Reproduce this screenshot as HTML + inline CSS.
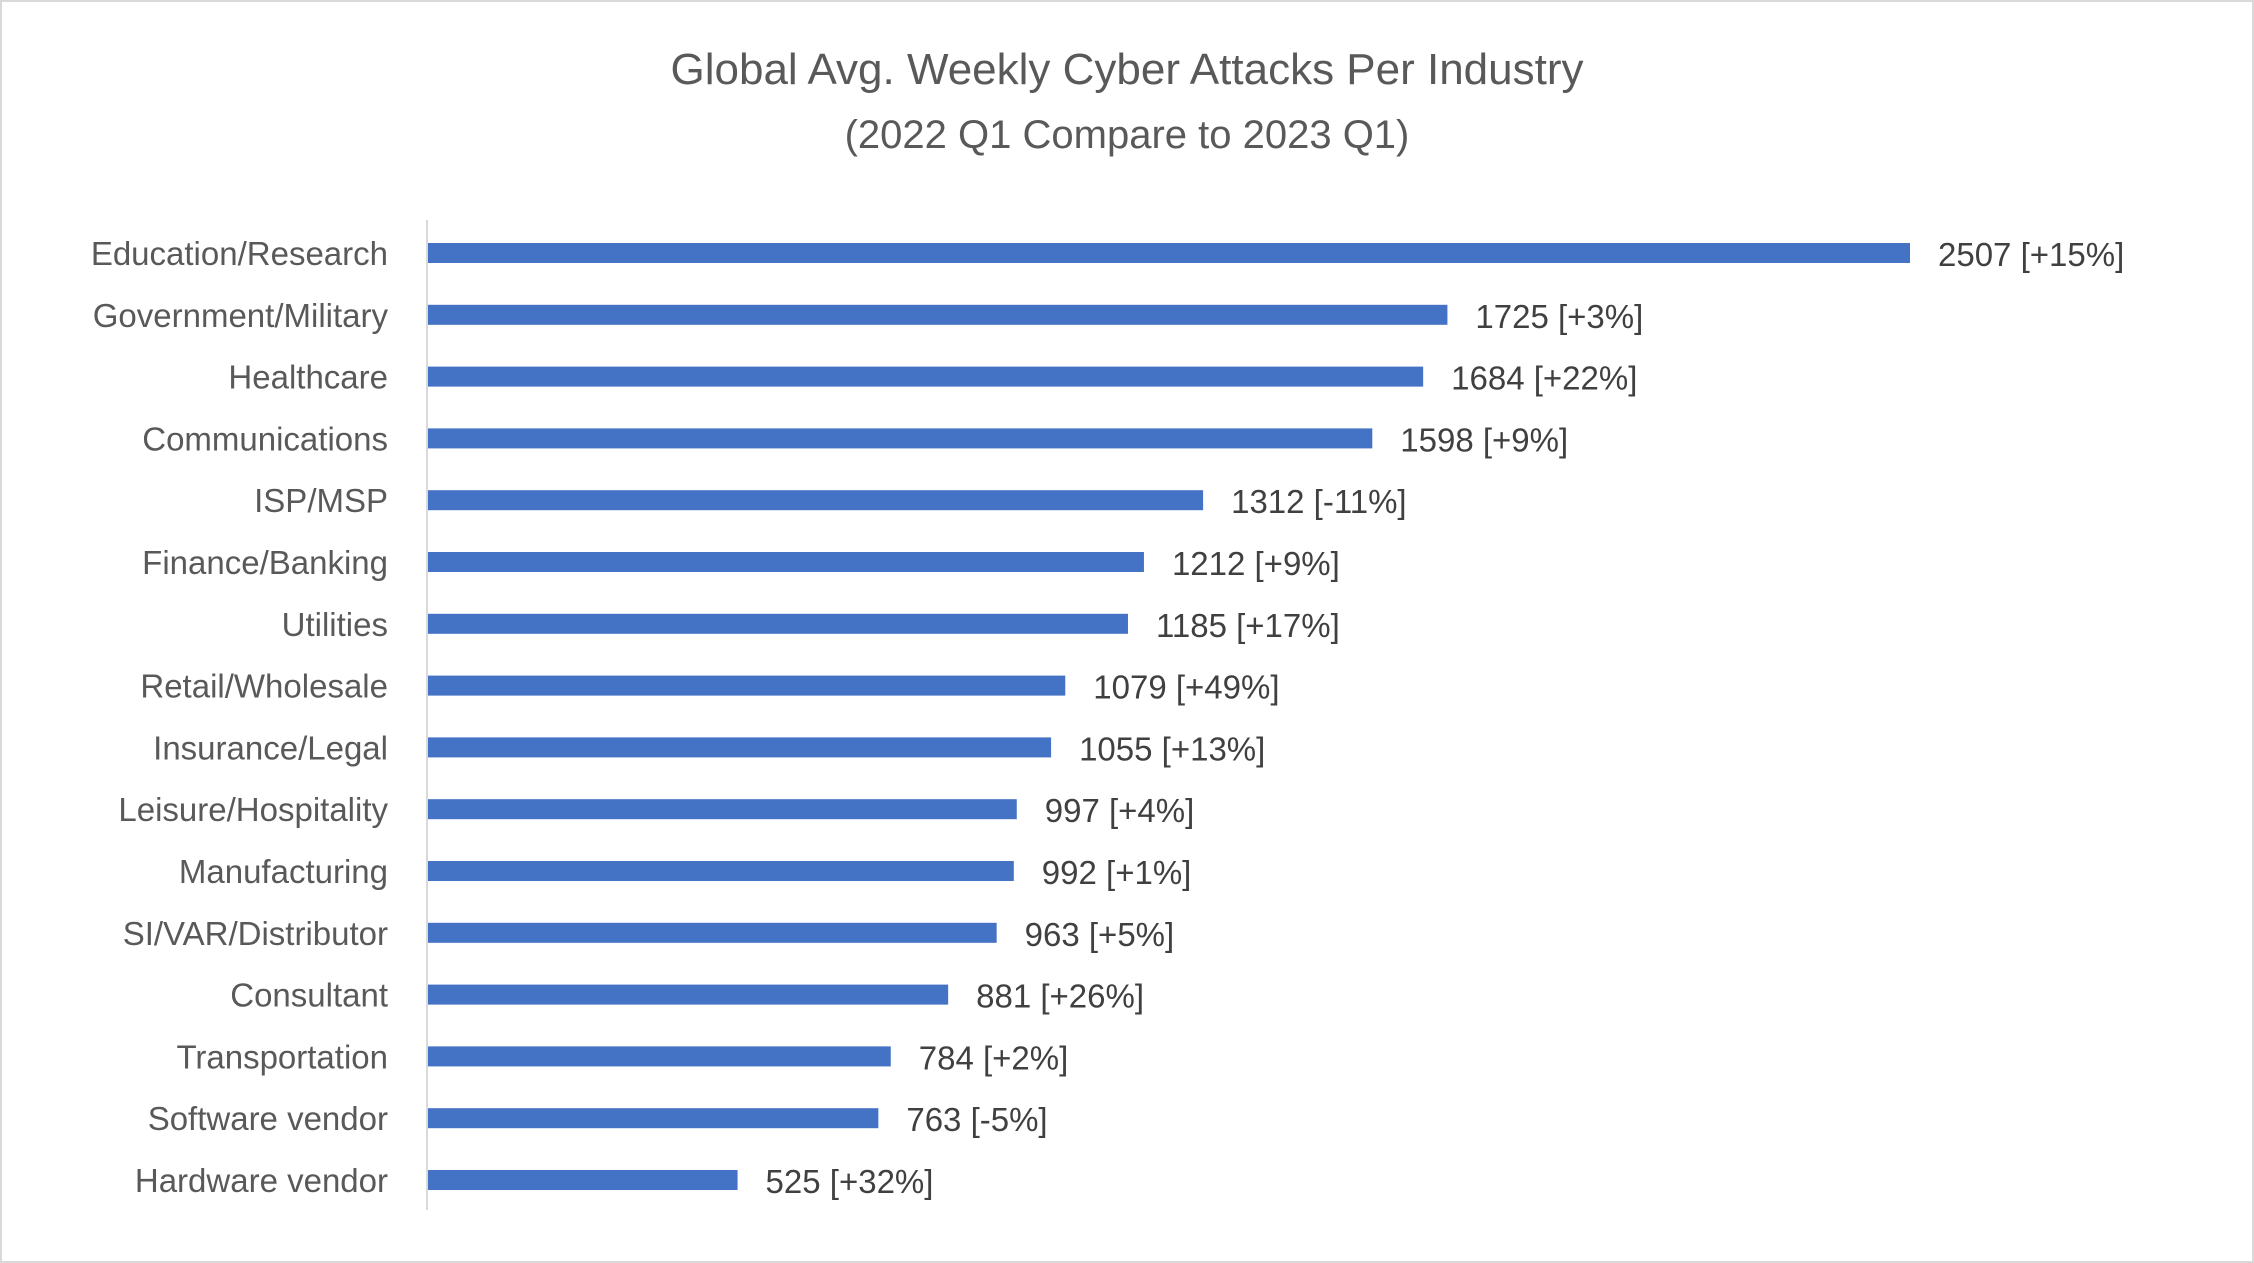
<!DOCTYPE html>
<html><head><meta charset="utf-8"><style>
html,body{margin:0;padding:0;background:#fff;}
svg{display:block;font-family:"Liberation Sans",sans-serif;}
</style></head><body>
<svg id="chart" width="2254" height="1263" viewBox="0 0 2254 1263">
<rect x="1" y="1" width="2252" height="1261" fill="#fff" stroke="#d9d9d9" stroke-width="2"/>
<text x="1127" y="84" text-anchor="middle" font-size="44" fill="#595959">Global Avg. Weekly Cyber Attacks Per Industry</text>
<text x="1127" y="148" text-anchor="middle" font-size="40" fill="#595959">(2022 Q1 Compare to 2023 Q1)</text>
<line x1="427" y1="220" x2="427" y2="1210" stroke="#d9d9d9" stroke-width="2"/>
<g id="bars"></g>
</svg>
<script>
const categories=["Education/Research","Government/Military","Healthcare","Communications","ISP/MSP","Finance/Banking","Utilities","Retail/Wholesale","Insurance/Legal","Leisure/Hospitality","Manufacturing","SI/VAR/Distributor","Consultant","Transportation","Software vendor","Hardware vendor"];
const values=[2507,1725,1684,1598,1312,1212,1185,1079,1055,997,992,963,881,784,763,525];
const changes=["+15%","+3%","+22%","+9%","-11%","+9%","+17%","+49%","+13%","+4%","+1%","+5%","+26%","+2%","-5%","+32%"];
const x0=427, xScale=v=>x0+v*((1910-427)/2507);
const yScale=i=>253+i*((1180-253)/15);
const ns="http://www.w3.org/2000/svg";
const g=document.getElementById("bars");
categories.forEach((c,i)=>{
  const y=yScale(i);
  const r=document.createElementNS(ns,"rect");
  r.setAttribute("x",x0+1);r.setAttribute("y",y-10);
  r.setAttribute("width",xScale(values[i])-x0-1);r.setAttribute("height",20);
  r.setAttribute("fill","#4472C4");
  
  
  g.appendChild(r);
  const t=document.createElementNS(ns,"text");
  t.setAttribute("x",388);t.setAttribute("y",y+12);
  t.setAttribute("text-anchor","end");t.setAttribute("font-size","33");t.setAttribute("fill","#595959");
  t.textContent=c;
  
  
  g.appendChild(t);
  const v=document.createElementNS(ns,"text");
  v.setAttribute("x",xScale(values[i])+28);v.setAttribute("y",y+13);
  v.setAttribute("font-size","33");v.setAttribute("fill","#404040");
  v.textContent=values[i]+" ["+changes[i]+"]";
  
  
  g.appendChild(v);
});
</script>
</body></html>
